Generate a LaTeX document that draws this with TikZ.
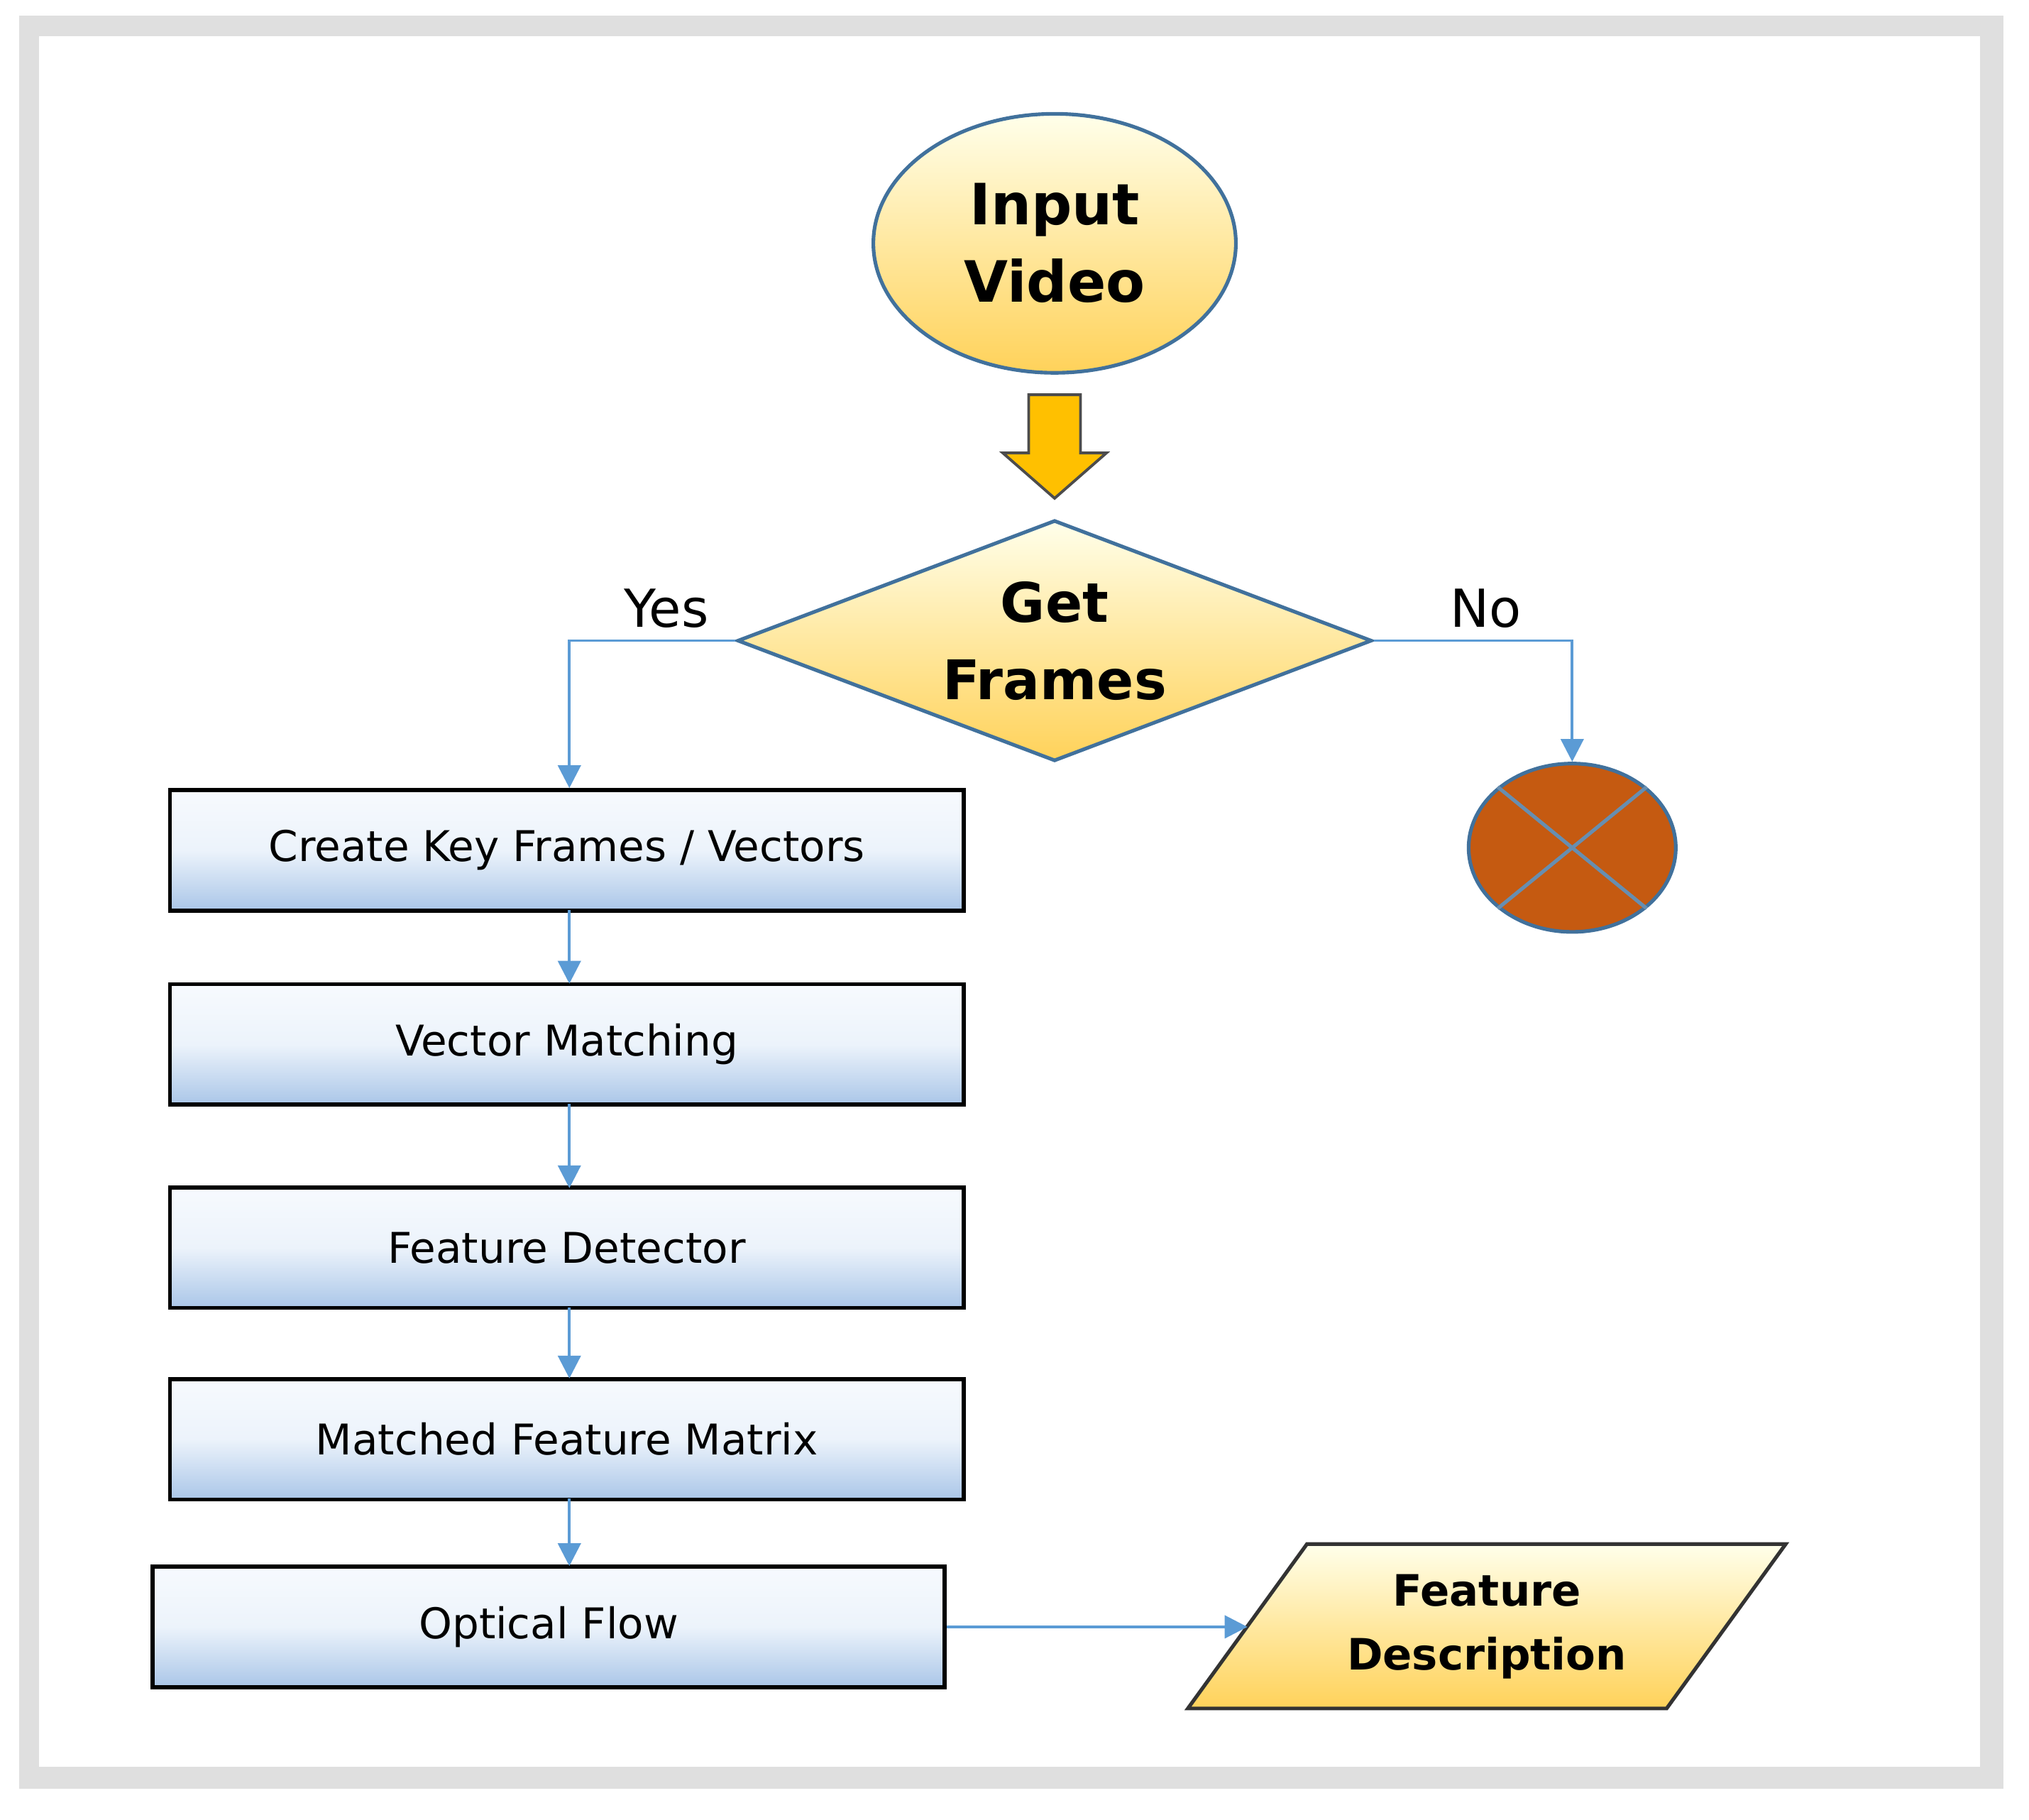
\documentclass[tikz,border=0pt]{standalone}
\usepackage{fontspec}
\setmainfont{DejaVu Sans}
\usetikzlibrary{shapes.geometric,arrows.meta}
\definecolor{bord}{HTML}{41719C}
\definecolor{lnk}{HTML}{5B9BD5}
\tikzset{
 yel/.style={draw=bord,line width=0.8pt,top color=yellow!8!white,bottom color={rgb,255:red,255;green,210;blue,90},middle color={rgb,255:red,255;green,232;blue,160}},
 box/.style={draw=black,line width=0.9pt,rectangle,minimum width=6.13cm,minimum height=0.93cm,top color={rgb,255:red,247;green,250;blue,254},bottom color={rgb,255:red,170;green,198;blue,232},middle color={rgb,255:red,236;green,243;blue,251},font=\fontsize{9.3}{11}\selectfont},
 lk/.style={draw=lnk,line width=0.6pt,-{Triangle[length=5pt,width=5pt]}},
}
\begin{document}
\begin{tikzpicture}[x=0.01cm,y=-0.01cm]
\useasboundingbox (0,0) rectangle (1568,1406);
\fill[gray!25] (15,12) rectangle (1548,1382);
\fill[white] (30,28) rectangle (1530,1365);
% ellipse
\node[ellipse,yel,minimum width=2.8cm,minimum height=2cm,align=center,font=\bfseries\fontsize{12.5}{17}\selectfont] (in) at (815,188) {Input\\Video};
% big arrow
\node[inner sep=0] (ah) at (815,305) {};
\filldraw[fill={rgb,255:red,255;green,192;blue,0},draw=black!70,line width=0.6pt] (795,305) -- (835,305) -- (835,350) -- (855,350) -- (815,385) -- (775,350) -- (795,350) -- cycle;
% diamond
\node[diamond,yel,aspect=2.63,minimum width=4.9cm,minimum height=1.86cm,inner sep=0,align=center,font=\bfseries\fontsize{12}{17}\selectfont] (gf) at (815,495) {Get\\Frames};
\node[font=\fontsize{11.5}{13}\selectfont] (yes) at (515,470) {Yes};
\node[font=\fontsize{11.5}{13}\selectfont] (no) at (1148,470) {No};
% end circle
\node[ellipse,draw=bord,line width=0.8pt,fill={rgb,255:red,197;green,90;blue,17},minimum width=1.6cm,minimum height=1.3cm] (x) at (1215,655) {};
\draw[bord!80,line width=0.8pt] (x.north west) -- (x.south east) (x.north east) -- (x.south west);
% boxes
\node[box] (b1) at (438,657) {Create Key Frames / Vectors};
\node[box] (b2) at (438,807) {Vector Matching};
\node[box] (b3) at (438,964) {Feature Detector};
\node[box] (b4) at (438,1112) {Matched Feature Matrix};
\node[box,minimum width=6.12cm] (b5) at (424,1257) {Optical Flow};
% parallelogram
\coordinate (p1) at (918,1320); \coordinate (p2) at (1010,1193); \coordinate (p3) at (1380,1193); \coordinate (p4) at (1288,1320);
\filldraw[yel,draw=black!80] (p1) -- (p2) -- (p3) -- (p4) -- cycle;
\node[align=center,font=\bfseries\fontsize{9.5}{14}\selectfont] (fd) at (1149,1257) {Feature\\Description};
\coordinate (fdl) at (964,1257);
% links
\draw[lk] (gf.west) -| (b1.north -| 440,0);
\draw[lk] (gf.east) -| (x.north);
\draw[lk] (440,703) -- (440,760);
\draw[lk] (440,853) -- (440,918);
\draw[lk] (440,1010) -- (440,1065);
\draw[lk] (440,1158) -- (440,1210);
\draw[lk] (b5.east) -- (fdl);
\end{tikzpicture}
\end{document}
